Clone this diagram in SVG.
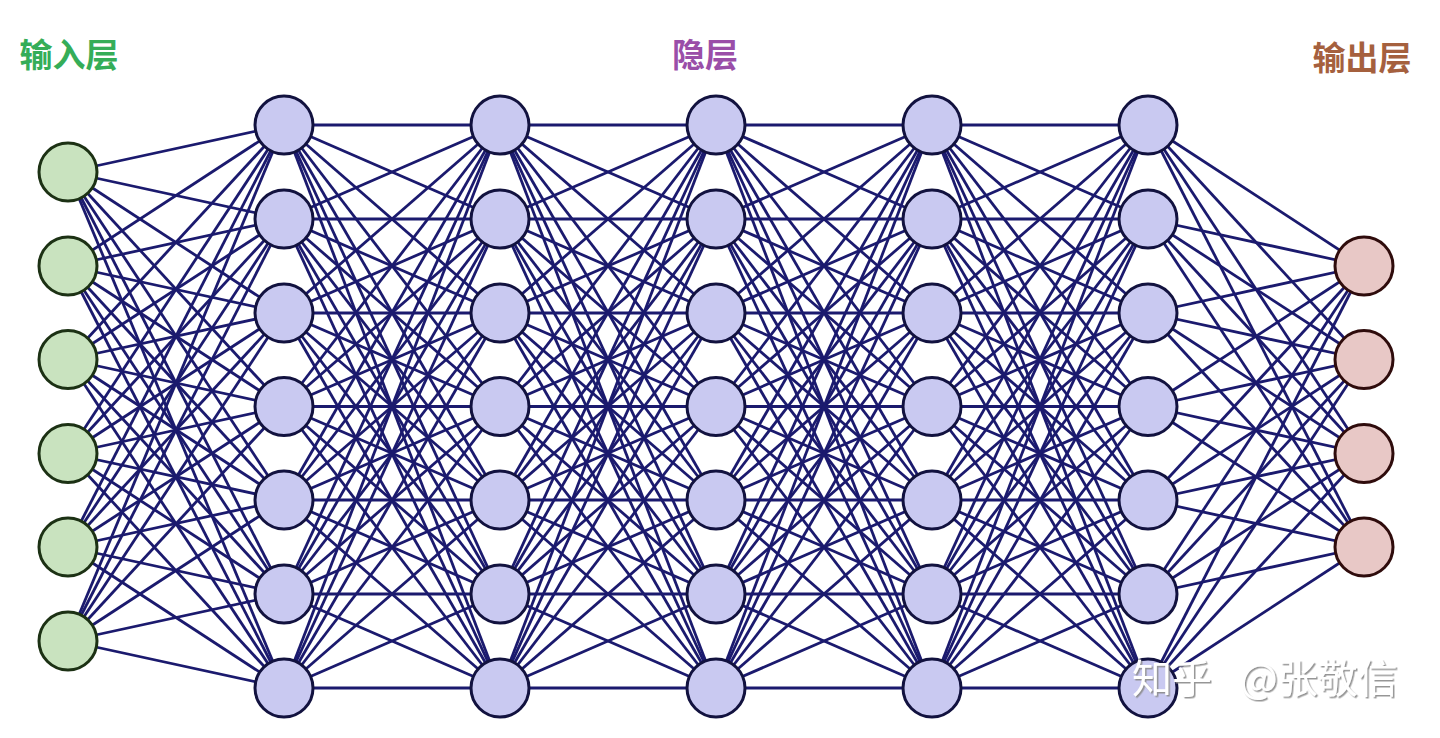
<svg xmlns="http://www.w3.org/2000/svg" xmlns:xlink="http://www.w3.org/1999/xlink" width="1440" height="738" viewBox="0 0 1440 738">
<style>
.c line{stroke:#1b1a6e;stroke-width:2.8;}
.in circle{fill:#c9e3bf;stroke:#1c3114;stroke-width:3;}
.hd circle{fill:#c9c9f1;stroke:#12123f;stroke-width:3;}
.out circle{fill:#e8c8c6;stroke:#2f0c0c;stroke-width:3;}
.lbl{font-family:"Noto Sans CJK SC","Noto Sans",sans-serif;font-weight:700;font-size:33px;text-anchor:middle;}
.wm{font-family:"Noto Sans CJK SC","Noto Sans",sans-serif;font-weight:400;font-size:40px;fill:#ffffff;}
</style>
<defs>
<filter id="emb" x="-10%" y="-20%" width="120%" height="140%">
<feDropShadow dx="1.5" dy="1.5" stdDeviation="0.6" flood-color="#8a8a8a" flood-opacity="0.9"/>
</filter>
<g id="hh" stroke="#1b1a6e" stroke-width="2.8">
<line x1="284" y1="125" x2="500" y2="125"/><line x1="284" y1="125" x2="500" y2="219"/><line x1="284" y1="125" x2="500" y2="313"/><line x1="284" y1="125" x2="500" y2="406.5"/><line x1="284" y1="125" x2="500" y2="500"/><line x1="284" y1="125" x2="500" y2="594"/><line x1="284" y1="125" x2="500" y2="688"/>
<line x1="284" y1="219" x2="500" y2="125"/><line x1="284" y1="219" x2="500" y2="219"/><line x1="284" y1="219" x2="500" y2="313"/><line x1="284" y1="219" x2="500" y2="406.5"/><line x1="284" y1="219" x2="500" y2="500"/><line x1="284" y1="219" x2="500" y2="594"/><line x1="284" y1="219" x2="500" y2="688"/>
<line x1="284" y1="313" x2="500" y2="125"/><line x1="284" y1="313" x2="500" y2="219"/><line x1="284" y1="313" x2="500" y2="313"/><line x1="284" y1="313" x2="500" y2="406.5"/><line x1="284" y1="313" x2="500" y2="500"/><line x1="284" y1="313" x2="500" y2="594"/><line x1="284" y1="313" x2="500" y2="688"/>
<line x1="284" y1="406.5" x2="500" y2="125"/><line x1="284" y1="406.5" x2="500" y2="219"/><line x1="284" y1="406.5" x2="500" y2="313"/><line x1="284" y1="406.5" x2="500" y2="406.5"/><line x1="284" y1="406.5" x2="500" y2="500"/><line x1="284" y1="406.5" x2="500" y2="594"/><line x1="284" y1="406.5" x2="500" y2="688"/>
<line x1="284" y1="500" x2="500" y2="125"/><line x1="284" y1="500" x2="500" y2="219"/><line x1="284" y1="500" x2="500" y2="313"/><line x1="284" y1="500" x2="500" y2="406.5"/><line x1="284" y1="500" x2="500" y2="500"/><line x1="284" y1="500" x2="500" y2="594"/><line x1="284" y1="500" x2="500" y2="688"/>
<line x1="284" y1="594" x2="500" y2="125"/><line x1="284" y1="594" x2="500" y2="219"/><line x1="284" y1="594" x2="500" y2="313"/><line x1="284" y1="594" x2="500" y2="406.5"/><line x1="284" y1="594" x2="500" y2="500"/><line x1="284" y1="594" x2="500" y2="594"/><line x1="284" y1="594" x2="500" y2="688"/>
<line x1="284" y1="688" x2="500" y2="125"/><line x1="284" y1="688" x2="500" y2="219"/><line x1="284" y1="688" x2="500" y2="313"/><line x1="284" y1="688" x2="500" y2="406.5"/><line x1="284" y1="688" x2="500" y2="500"/><line x1="284" y1="688" x2="500" y2="594"/><line x1="284" y1="688" x2="500" y2="688"/>
</g>
</defs>
<rect width="1440" height="738" fill="#ffffff"/>
<g id="connectors" class="c" stroke="#1b1a6e" stroke-width="2.8">
<g id="in-h1">
<line x1="68" y1="172" x2="284" y2="125"/><line x1="68" y1="172" x2="284" y2="219"/><line x1="68" y1="172" x2="284" y2="313"/><line x1="68" y1="172" x2="284" y2="406.5"/><line x1="68" y1="172" x2="284" y2="500"/><line x1="68" y1="172" x2="284" y2="594"/><line x1="68" y1="172" x2="284" y2="688"/>
<line x1="68" y1="266" x2="284" y2="125"/><line x1="68" y1="266" x2="284" y2="219"/><line x1="68" y1="266" x2="284" y2="313"/><line x1="68" y1="266" x2="284" y2="406.5"/><line x1="68" y1="266" x2="284" y2="500"/><line x1="68" y1="266" x2="284" y2="594"/><line x1="68" y1="266" x2="284" y2="688"/>
<line x1="68" y1="359.5" x2="284" y2="125"/><line x1="68" y1="359.5" x2="284" y2="219"/><line x1="68" y1="359.5" x2="284" y2="313"/><line x1="68" y1="359.5" x2="284" y2="406.5"/><line x1="68" y1="359.5" x2="284" y2="500"/><line x1="68" y1="359.5" x2="284" y2="594"/><line x1="68" y1="359.5" x2="284" y2="688"/>
<line x1="68" y1="453.5" x2="284" y2="125"/><line x1="68" y1="453.5" x2="284" y2="219"/><line x1="68" y1="453.5" x2="284" y2="313"/><line x1="68" y1="453.5" x2="284" y2="406.5"/><line x1="68" y1="453.5" x2="284" y2="500"/><line x1="68" y1="453.5" x2="284" y2="594"/><line x1="68" y1="453.5" x2="284" y2="688"/>
<line x1="68" y1="547" x2="284" y2="125"/><line x1="68" y1="547" x2="284" y2="219"/><line x1="68" y1="547" x2="284" y2="313"/><line x1="68" y1="547" x2="284" y2="406.5"/><line x1="68" y1="547" x2="284" y2="500"/><line x1="68" y1="547" x2="284" y2="594"/><line x1="68" y1="547" x2="284" y2="688"/>
<line x1="68" y1="641" x2="284" y2="125"/><line x1="68" y1="641" x2="284" y2="219"/><line x1="68" y1="641" x2="284" y2="313"/><line x1="68" y1="641" x2="284" y2="406.5"/><line x1="68" y1="641" x2="284" y2="500"/><line x1="68" y1="641" x2="284" y2="594"/><line x1="68" y1="641" x2="284" y2="688"/>
</g>
<use id="h1-h2" xlink:href="#hh" href="#hh"/>
<use id="h2-h3" xlink:href="#hh" href="#hh" x="216"/>
<use id="h3-h4" xlink:href="#hh" href="#hh" x="432"/>
<use id="h4-h5" xlink:href="#hh" href="#hh" x="648"/>
<g id="h5-out">
<line x1="1148" y1="125" x2="1364" y2="266"/><line x1="1148" y1="125" x2="1364" y2="359.5"/><line x1="1148" y1="125" x2="1364" y2="453.5"/><line x1="1148" y1="125" x2="1364" y2="547"/>
<line x1="1148" y1="219" x2="1364" y2="266"/><line x1="1148" y1="219" x2="1364" y2="359.5"/><line x1="1148" y1="219" x2="1364" y2="453.5"/><line x1="1148" y1="219" x2="1364" y2="547"/>
<line x1="1148" y1="313" x2="1364" y2="266"/><line x1="1148" y1="313" x2="1364" y2="359.5"/><line x1="1148" y1="313" x2="1364" y2="453.5"/><line x1="1148" y1="313" x2="1364" y2="547"/>
<line x1="1148" y1="406.5" x2="1364" y2="266"/><line x1="1148" y1="406.5" x2="1364" y2="359.5"/><line x1="1148" y1="406.5" x2="1364" y2="453.5"/><line x1="1148" y1="406.5" x2="1364" y2="547"/>
<line x1="1148" y1="500" x2="1364" y2="266"/><line x1="1148" y1="500" x2="1364" y2="359.5"/><line x1="1148" y1="500" x2="1364" y2="453.5"/><line x1="1148" y1="500" x2="1364" y2="547"/>
<line x1="1148" y1="594" x2="1364" y2="266"/><line x1="1148" y1="594" x2="1364" y2="359.5"/><line x1="1148" y1="594" x2="1364" y2="453.5"/><line x1="1148" y1="594" x2="1364" y2="547"/>
<line x1="1148" y1="688" x2="1364" y2="266"/><line x1="1148" y1="688" x2="1364" y2="359.5"/><line x1="1148" y1="688" x2="1364" y2="453.5"/><line x1="1148" y1="688" x2="1364" y2="547"/>
</g>
</g>
<g id="input-layer" class="in">
<g id="in1"><circle cx="68" cy="172" r="29"/></g>
<g id="in2"><circle cx="68" cy="266" r="29"/></g>
<g id="in3"><circle cx="68" cy="359.5" r="29"/></g>
<g id="in4"><circle cx="68" cy="453.5" r="29"/></g>
<g id="in5"><circle cx="68" cy="547" r="29"/></g>
<g id="in6"><circle cx="68" cy="641" r="29"/></g>
</g>
<g id="hidden-1" class="hd">
<g id="h1n1"><circle cx="284" cy="125" r="29"/></g>
<g id="h1n2"><circle cx="284" cy="219" r="29"/></g>
<g id="h1n3"><circle cx="284" cy="313" r="29"/></g>
<g id="h1n4"><circle cx="284" cy="406.5" r="29"/></g>
<g id="h1n5"><circle cx="284" cy="500" r="29"/></g>
<g id="h1n6"><circle cx="284" cy="594" r="29"/></g>
<g id="h1n7"><circle cx="284" cy="688" r="29"/></g>
</g>
<g id="hidden-2" class="hd">
<g id="h2n1"><circle cx="500" cy="125" r="29"/></g>
<g id="h2n2"><circle cx="500" cy="219" r="29"/></g>
<g id="h2n3"><circle cx="500" cy="313" r="29"/></g>
<g id="h2n4"><circle cx="500" cy="406.5" r="29"/></g>
<g id="h2n5"><circle cx="500" cy="500" r="29"/></g>
<g id="h2n6"><circle cx="500" cy="594" r="29"/></g>
<g id="h2n7"><circle cx="500" cy="688" r="29"/></g>
</g>
<g id="hidden-3" class="hd">
<g id="h3n1"><circle cx="716" cy="125" r="29"/></g>
<g id="h3n2"><circle cx="716" cy="219" r="29"/></g>
<g id="h3n3"><circle cx="716" cy="313" r="29"/></g>
<g id="h3n4"><circle cx="716" cy="406.5" r="29"/></g>
<g id="h3n5"><circle cx="716" cy="500" r="29"/></g>
<g id="h3n6"><circle cx="716" cy="594" r="29"/></g>
<g id="h3n7"><circle cx="716" cy="688" r="29"/></g>
</g>
<g id="hidden-4" class="hd">
<g id="h4n1"><circle cx="932" cy="125" r="29"/></g>
<g id="h4n2"><circle cx="932" cy="219" r="29"/></g>
<g id="h4n3"><circle cx="932" cy="313" r="29"/></g>
<g id="h4n4"><circle cx="932" cy="406.5" r="29"/></g>
<g id="h4n5"><circle cx="932" cy="500" r="29"/></g>
<g id="h4n6"><circle cx="932" cy="594" r="29"/></g>
<g id="h4n7"><circle cx="932" cy="688" r="29"/></g>
</g>
<g id="hidden-5" class="hd">
<g id="h5n1"><circle cx="1148" cy="125" r="29"/></g>
<g id="h5n2"><circle cx="1148" cy="219" r="29"/></g>
<g id="h5n3"><circle cx="1148" cy="313" r="29"/></g>
<g id="h5n4"><circle cx="1148" cy="406.5" r="29"/></g>
<g id="h5n5"><circle cx="1148" cy="500" r="29"/></g>
<g id="h5n6"><circle cx="1148" cy="594" r="29"/></g>
<g id="h5n7"><circle cx="1148" cy="688" r="29"/></g>
</g>
<g id="output-layer" class="out">
<g id="out1"><circle cx="1364" cy="266" r="29"/></g>
<g id="out2"><circle cx="1364" cy="359.5" r="29"/></g>
<g id="out3"><circle cx="1364" cy="453.5" r="29"/></g>
<g id="out4"><circle cx="1364" cy="547" r="29"/></g>
</g>
<g id="labels">
<text class="lbl" x="69" y="67" fill="#35ad58">输入层</text>
<text class="lbl" x="705" y="67" fill="#9a4ea8">隐层</text>
<text class="lbl" x="1362" y="70" fill="#a5603e">输出层</text>
</g>
<g id="watermark">
<text class="wm" filter="url(#emb)" y="693"><tspan x="1132">知乎</tspan><tspan x="1240">@张敬信</tspan></text>
</g>
</svg>
